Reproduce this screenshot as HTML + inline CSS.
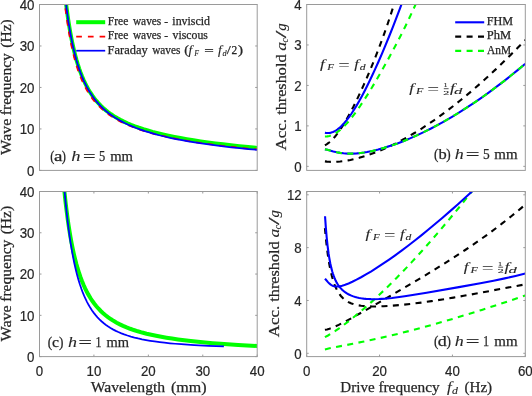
<!DOCTYPE html><html><head><meta charset="utf-8"><style>html,body{margin:0;padding:0;background:#fff;}svg{display:block;}.t{font-family:"Liberation Sans",sans-serif;font-size:14px;fill:#262626;stroke:#262626;stroke-width:0.2px;}.s{font-family:"Liberation Serif",serif;fill:#262626;stroke:#262626;stroke-width:0.25px;}.i{font-style:italic;stroke-width:0.1px;}</style></head><body>
<svg width="532" height="396" viewBox="0 0 532 396">
<rect width="532" height="396" fill="#fff"/>
<clipPath id="cpa"><rect x="39.50" y="4.50" width="217.70" height="165.90"/></clipPath>
<clipPath id="cpb"><rect x="306.70" y="4.50" width="218.60" height="165.90"/></clipPath>
<clipPath id="cpc"><rect x="39.50" y="191.50" width="217.70" height="165.10"/></clipPath>
<clipPath id="cpd"><rect x="306.70" y="191.50" width="218.60" height="165.10"/></clipPath>
<path clip-path="url(#cpa)" d="M58.55 -90.51L59.74 -69.49L60.94 -51.40L61.73 -40.69L62.53 -30.91L63.33 -21.96L64.12 -13.73L64.92 -6.15L65.71 0.84L66.51 7.32L67.71 16.16L68.50 21.55L69.70 28.96L70.49 33.50L71.69 39.78L72.88 45.49L74.07 50.70L75.27 55.47L76.46 59.85L77.66 63.89L79.25 68.80L80.44 72.16L82.04 76.28L83.63 80.02L85.22 83.44L86.81 86.57L88.41 89.45L90.40 92.73L92.39 95.71L94.38 98.42L96.37 100.90L98.36 103.18L100.75 105.68L103.14 107.95L105.92 110.36L108.31 112.25L111.10 114.26L113.88 116.11L117.07 118.03L120.25 119.79L123.84 121.60L127.42 123.25L131.00 124.77L134.98 126.32L138.96 127.74L143.34 129.19L147.72 130.52L152.50 131.87L157.68 133.21L162.85 134.45L168.42 135.69L174.40 136.92L180.37 138.06L186.74 139.19L193.50 140.30L200.67 141.39L207.84 142.41L215.40 143.41L222.96 144.34L230.93 145.25L239.29 146.15L248.04 147.02L257.20 147.87" fill="none" stroke="#00ff00" stroke-width="4"/>
<path clip-path="url(#cpa)" d="M58.55 -73.27L59.74 -53.88L60.94 -37.19L61.73 -27.31L62.53 -18.29L63.33 -10.03L64.12 -2.45L64.92 4.54L65.71 10.98L66.51 16.95L67.71 25.11L68.50 30.08L69.70 36.91L70.49 41.09L71.69 46.88L72.88 52.14L74.07 56.95L75.27 61.35L76.46 65.39L77.66 69.12L79.25 73.65L80.44 76.76L82.04 80.56L83.63 84.03L85.22 87.19L86.81 90.10L88.41 92.77L90.40 95.83L92.39 98.60L94.38 101.14L96.37 103.46L98.36 105.60L100.75 107.95L103.14 110.11L105.92 112.39L108.71 114.48L111.50 116.38L114.68 118.37L117.87 120.19L121.05 121.87L124.63 123.59L128.22 125.18L132.20 126.81L136.18 128.30L140.56 129.82L144.94 131.22L149.32 132.52L154.09 133.83L159.27 135.15L164.84 136.46L170.41 137.67L176.39 138.88L182.36 140.00L188.73 141.10L195.10 142.13L201.86 143.15L209.03 144.16L216.20 145.09L223.76 146.01L231.72 146.90L239.68 147.74L248.44 148.59L257.20 149.39" fill="none" stroke="#ff0000" stroke-width="1.75" stroke-dasharray="5.7 6"/>
<path clip-path="url(#cpa)" d="M58.55 -89.59L59.74 -68.66L60.94 -50.64L61.73 -39.98L62.53 -30.24L63.33 -21.32L64.12 -13.13L64.92 -5.58L65.71 1.39L66.51 7.83L67.71 16.65L68.50 22.01L69.70 29.40L70.49 33.92L71.69 40.17L72.88 45.86L74.07 51.05L75.27 55.81L76.46 60.18L77.66 64.21L79.25 69.11L80.44 72.47L82.04 76.58L83.63 80.33L85.22 83.75L86.81 86.89L88.41 89.78L90.40 93.08L92.39 96.08L94.38 98.81L96.37 101.32L98.36 103.63L100.75 106.17L103.14 108.49L105.92 110.96L108.71 113.20L111.50 115.25L114.68 117.39L117.87 119.34L121.05 121.14L124.63 122.99L128.22 124.68L132.20 126.41L136.18 128.00L140.56 129.61L144.94 131.09L149.32 132.46L154.09 133.84L159.27 135.23L164.44 136.50L170.02 137.78L175.99 139.03L181.96 140.20L188.33 141.35L194.70 142.41L201.47 143.46L208.63 144.49L215.80 145.44L223.36 146.38L231.32 147.29L239.68 148.18L248.44 149.04L257.20 149.84" fill="none" stroke="#0000ff" stroke-width="1.75"/>
<path clip-path="url(#cpc)" d="M58.55 110.95L59.74 132.03L60.94 150.28L61.73 161.11L62.53 171.04L63.33 180.15L64.12 188.54L64.92 196.28L65.71 203.45L66.51 210.09L67.71 219.18L68.50 224.73L69.70 232.37L70.49 237.05L71.69 243.53L72.88 249.43L74.07 254.81L75.27 259.74L76.46 264.26L77.66 268.43L79.25 273.49L80.44 276.95L82.04 281.18L83.63 285.02L85.22 288.52L86.81 291.72L88.41 294.65L90.40 297.98L92.39 300.99L94.38 303.72L96.37 306.20L98.36 308.48L100.75 310.95L103.14 313.19L105.52 315.23L107.91 317.09L110.70 319.05L113.49 320.84L116.67 322.68L119.86 324.34L123.04 325.84L126.62 327.38L130.21 328.76L133.79 330.02L137.77 331.29L142.15 332.55L146.53 333.69L151.31 334.81L156.08 335.82L161.26 336.82L166.43 337.72L172.01 338.60L177.98 339.46L184.35 340.29L190.72 341.03L197.88 341.80L205.05 342.48L212.61 343.14L220.57 343.77L238.09 344.97L257.20 346.04" fill="none" stroke="#00ff00" stroke-width="4"/>
<path clip-path="url(#cpc)" d="M60.18 128.29L61.35 148.15L62.71 168.23L64.01 184.98L65.54 201.82L67.01 215.79L67.77 222.32L68.72 229.77L69.53 235.68L70.36 241.31L71.22 246.70L72.28 252.83L73.19 257.68L74.32 263.20L75.29 267.56L76.48 272.52L77.51 276.43L78.78 280.88L80.10 285.08L81.45 289.03L82.62 292.14L84.06 295.67L85.55 299.00L87.09 302.12L88.69 305.07L90.33 307.83L92.03 310.43L93.79 312.87L95.60 315.16L97.48 317.32L99.42 319.34L101.42 321.24L103.49 323.03L105.63 324.71L107.85 326.28L110.52 327.99L112.90 329.36L115.77 330.86L118.32 332.05L121.40 333.35L124.14 334.39L127.45 335.52L130.90 336.57L134.47 337.55L138.19 338.45L142.05 339.29L146.06 340.06L150.23 340.78L154.57 341.44L159.73 342.14L164.43 342.70L170.03 343.28L175.14 343.75L181.22 344.24L187.58 344.69L194.22 345.09L208.40 345.76L223.89 346.29" fill="none" stroke="#0000ff" stroke-width="1.75"/>
<path clip-path="url(#cpb)" d="M324.92 145.20L326.09 144.58L327.27 143.85L328.51 142.97L329.76 141.96L331.03 140.83L332.31 139.56L333.60 138.19L334.89 136.71L336.18 135.14L337.68 133.18L340.47 129.24L343.47 124.58L346.48 119.54L349.69 113.77L353.13 107.22L356.56 100.32L360.21 92.64L363.86 84.62L367.50 76.28L371.15 67.62L374.80 58.63L378.02 50.41L381.24 41.88L384.24 33.63L387.25 25.05L390.04 16.76L392.83 8.12L395.40 -0.19L397.98 -8.87L400.55 -17.95L402.91 -26.66L405.27 -35.77L407.42 -44.44L409.56 -53.50L411.71 -62.98L413.85 -72.92L416.00 -83.35" fill="none" stroke="#000000" stroke-width="2.1" stroke-dasharray="6 5.4"/>
<path clip-path="url(#cpb)" d="M324.92 132.66L325.89 132.87L326.85 133.00L327.82 133.04L328.86 132.99L329.83 132.87L330.81 132.67L331.88 132.37L332.96 131.97L334.03 131.50L335.10 130.93L336.18 130.29L337.25 129.57L339.39 127.90L340.47 126.96L341.75 125.74L344.11 123.25L346.48 120.46L348.84 117.39L351.41 113.75L353.99 109.81L356.56 105.61L359.35 100.79L362.14 95.70L365.14 89.96L368.36 83.52L371.58 76.81L375.01 69.39L378.45 61.72L382.10 53.30L385.53 45.15L389.18 36.26L392.83 27.11L396.47 17.73L399.91 8.66L403.34 -0.65L406.56 -9.62L409.78 -18.83L413.00 -28.32L416.00 -37.44" fill="none" stroke="#0000ff" stroke-width="2.1"/>
<path clip-path="url(#cpb)" d="M324.92 136.48L326.02 136.48L327.20 136.40L328.31 136.23L329.48 135.96L330.64 135.61L331.94 135.12L332.98 134.66L334.29 133.99L335.59 133.23L336.89 132.38L338.19 131.45L339.49 130.44L342.09 128.18L344.95 125.37L347.82 122.25L350.68 118.86L353.80 114.88L356.93 110.63L360.31 105.78L363.95 100.30L367.60 94.59L371.50 88.26L376.18 80.41L381.13 71.86L386.33 62.60L391.28 53.57L395.96 44.77L400.65 35.72L404.81 27.41L408.97 18.81L412.62 11.01L416.00 3.48L419.38 -4.35L422.51 -11.89L425.63 -19.78L428.49 -27.34L431.35 -35.26L434.22 -43.57" fill="none" stroke="#00ff00" stroke-width="2.1" stroke-dasharray="6 5.4"/>
<path clip-path="url(#cpb)" d="M324.92 161.35L326.92 161.62L328.93 161.79L330.87 161.89L333.31 161.92L335.27 161.87L337.71 161.73L340.15 161.52L342.59 161.24L345.04 160.89L347.97 160.40L350.41 159.93L353.34 159.29L356.27 158.59L359.20 157.82L365.07 156.08L370.93 154.10L377.28 151.71L383.14 149.28L389.49 146.41L395.84 143.32L402.19 140.01L408.54 136.48L414.90 132.74L421.25 128.80L427.60 124.67L433.95 120.34L440.79 115.48L447.14 110.77L453.98 105.51L460.82 100.05L467.65 94.41L474.49 88.57L481.82 82.13L488.66 75.93L495.99 69.11L503.32 62.10L510.64 54.91L517.97 47.55L525.30 40.03" fill="none" stroke="#000000" stroke-width="2.1" stroke-dasharray="6 5.4"/>
<path clip-path="url(#cpb)" d="M324.92 149.37L326.02 149.53L327.41 149.82L333.31 151.45L336.73 152.27L340.15 152.90L343.57 153.33L345.53 153.48L347.97 153.60L349.92 153.63L352.36 153.60L356.76 153.35L359.20 153.12L361.65 152.83L364.09 152.48L367.02 151.99L372.39 150.92L378.26 149.51L384.12 147.87L390.47 145.86L396.82 143.64L403.17 141.22L410.01 138.40L416.85 135.37L423.69 132.14L430.53 128.73L437.86 124.86L444.69 121.07L452.02 116.81L459.35 112.35L466.68 107.70L474.01 102.85L481.33 97.82L488.66 92.59L495.99 87.18L503.32 81.58L510.64 75.80L517.97 69.83L525.30 63.68" fill="none" stroke="#0000ff" stroke-width="2.1"/>
<path clip-path="url(#cpb)" d="M324.92 149.37L326.02 149.53L327.41 149.82L333.31 151.45L336.73 152.27L340.15 152.90L343.57 153.33L345.53 153.48L347.97 153.60L349.92 153.63L352.36 153.60L356.76 153.35L359.20 153.12L361.65 152.83L364.09 152.48L367.02 151.99L372.39 150.92L378.26 149.51L384.12 147.87L390.47 145.86L396.82 143.64L403.17 141.22L410.01 138.40L416.85 135.37L423.69 132.14L430.53 128.73L437.86 124.86L444.69 121.07L452.02 116.81L459.35 112.35L466.68 107.70L474.01 102.85L481.33 97.82L488.66 92.59L495.99 87.18L503.32 81.58L510.64 75.80L517.97 69.83L525.30 63.68" fill="none" stroke="#00ff00" stroke-width="2.1" stroke-dasharray="6 5.4"/>
<path clip-path="url(#cpd)" d="M324.92 228.05L325.82 237.85L326.85 247.34L327.89 255.29L329.07 262.79L329.69 266.23L330.38 269.68L330.87 271.91L331.85 275.92L332.34 277.72L333.31 280.97L333.80 282.44L334.78 285.10L336.24 288.50L337.22 290.44L338.20 292.15L339.17 293.68L340.15 295.03L341.13 296.24L342.59 297.81L343.57 298.73L345.04 299.93L346.50 300.95L347.97 301.82L349.43 302.57L350.90 303.21L352.36 303.76L354.32 304.38L356.27 304.87L358.72 305.37L361.16 305.74L363.60 306.01L366.53 306.24L369.46 306.38L372.39 306.44L375.81 306.44L379.72 306.36L383.63 306.21L391.93 305.70L401.22 304.91L411.48 303.81L421.25 302.59L431.50 301.15L442.25 299.50L453.49 297.64L463.75 295.84L474.98 293.79L511.62 286.87L525.30 284.33" fill="none" stroke="#000000" stroke-width="2.1" stroke-dasharray="6 5.4"/>
<path clip-path="url(#cpd)" d="M324.92 329.84L327.06 329.43L329.48 328.73L332.34 327.70L335.27 326.46L338.69 324.87L342.59 322.92L346.99 320.61L352.36 317.68L361.16 312.75L372.88 306.04L389.00 296.72L403.66 288.17L414.41 281.82L424.18 275.97L432.97 270.62L441.28 265.47L453.49 257.71L465.21 250.00L475.96 242.66L481.33 238.89L486.71 235.03L492.08 231.09L496.97 227.43L501.85 223.70L506.74 219.88L511.62 215.98L516.02 212.40L520.90 208.33L525.30 204.59" fill="none" stroke="#000000" stroke-width="2.1" stroke-dasharray="6 5.4"/>
<path clip-path="url(#cpd)" d="M324.92 349.41L328.58 348.55L333.31 347.56L352.85 343.76L362.62 341.80L370.93 340.05L379.23 338.23L389.49 335.87L399.75 333.40L410.01 330.80L420.76 327.97L432.48 324.74L444.21 321.39L456.42 317.77L468.63 314.03L481.82 309.88L495.50 305.45L509.67 300.77L525.30 295.49" fill="none" stroke="#00ff00" stroke-width="2.1" stroke-dasharray="6 5.4"/>
<path clip-path="url(#cpd)" d="M324.92 337.15L328.03 335.47L331.52 333.38L335.31 330.91L339.10 328.30L343.27 325.28L347.81 321.83L352.36 318.25L356.91 314.55L361.46 310.74L366.38 306.48L371.31 302.10L376.23 297.61L381.16 293.00L386.09 288.29L391.01 283.47L396.32 278.16L401.24 273.14L406.55 267.61L411.48 262.38L416.78 256.65L421.71 251.23L427.01 245.30L432.32 239.26L437.62 233.13L448.23 220.59L459.22 207.21L470.21 193.47L481.58 178.89" fill="none" stroke="#00ff00" stroke-width="2.1" stroke-dasharray="6 5.4"/>
<path clip-path="url(#cpd)" d="M325.04 216.30L325.82 227.31L326.65 236.97L327.55 245.53L328.58 253.49L329.14 257.08L329.69 260.29L330.24 263.17L330.87 266.08L331.36 268.14L332.34 271.75L332.82 273.35L333.80 276.19L334.29 277.46L335.27 279.73L336.24 281.72L337.22 283.46L338.20 285.00L339.66 287.00L340.64 288.16L342.11 289.68L343.57 291.00L345.04 292.14L346.50 293.13L347.97 294.00L349.43 294.77L351.39 295.64L353.34 296.38L355.30 297.01L357.25 297.53L359.20 297.96L361.16 298.31L363.60 298.65L366.04 298.90L368.49 299.07L370.93 299.16L373.37 299.19L378.74 299.06L381.68 298.90L385.10 298.65L391.93 297.96L399.26 297.03L404.64 296.26L410.99 295.28L426.62 292.70L458.86 287.11L480.36 283.24L493.55 280.71L504.78 278.39L515.53 275.99L525.30 273.60" fill="none" stroke="#0000ff" stroke-width="2.1"/>
<path clip-path="url(#cpd)" d="M324.92 278.67L325.75 279.53L327.96 282.12L329.07 283.26L330.38 284.38L331.14 284.90L331.90 285.34L332.66 285.70L333.41 285.98L334.17 286.20L335.31 286.41L336.07 286.49L337.20 286.52L338.34 286.45L339.48 286.31L340.61 286.10L342.13 285.74L343.64 285.29L345.16 284.78L348.57 283.45L352.36 281.75L356.53 279.68L361.08 277.25L366.00 274.45L371.31 271.28L376.99 267.71L383.05 263.73L389.12 259.59L395.18 255.30L401.62 250.59L408.07 245.74L414.51 240.75L421.33 235.33L428.15 229.78L435.35 223.79L442.55 217.68L450.13 211.12L457.71 204.43L465.66 197.28L473.62 190.02L481.58 182.64" fill="none" stroke="#0000ff" stroke-width="2.1"/>
<rect x="39.50" y="4.50" width="217.70" height="165.90" fill="none" stroke="#9a9a9a" stroke-width="1"/>
<path d="M39.50 170.40h2.00M257.20 170.40h-2.00M39.50 128.93h2.00M257.20 128.93h-2.00M39.50 87.45h2.00M257.20 87.45h-2.00M39.50 45.97h2.00M257.20 45.97h-2.00M39.50 4.50h2.00M257.20 4.50h-2.00" stroke="#9a9a9a" stroke-width="1" fill="none"/>
<text class="t" x="34.50" y="175.70" text-anchor="end" textLength="7.39" lengthAdjust="spacingAndGlyphs">0</text>
<text class="t" x="34.50" y="134.23" text-anchor="end" textLength="14.79" lengthAdjust="spacingAndGlyphs">10</text>
<text class="t" x="34.50" y="92.75" text-anchor="end" textLength="14.79" lengthAdjust="spacingAndGlyphs">20</text>
<text class="t" x="34.50" y="51.27" text-anchor="end" textLength="14.79" lengthAdjust="spacingAndGlyphs">30</text>
<text class="t" x="34.50" y="9.80" text-anchor="end" textLength="14.79" lengthAdjust="spacingAndGlyphs">40</text>
<rect x="39.50" y="191.50" width="217.70" height="165.10" fill="none" stroke="#9a9a9a" stroke-width="1"/>
<path d="M39.50 356.60v-2.00M39.50 191.50v2.00M93.92 356.60v-2.00M93.92 191.50v2.00M148.35 356.60v-2.00M148.35 191.50v2.00M202.77 356.60v-2.00M202.77 191.50v2.00M257.20 356.60v-2.00M257.20 191.50v2.00M39.50 356.60h2.00M257.20 356.60h-2.00M39.50 315.33h2.00M257.20 315.33h-2.00M39.50 274.05h2.00M257.20 274.05h-2.00M39.50 232.78h2.00M257.20 232.78h-2.00M39.50 191.50h2.00M257.20 191.50h-2.00" stroke="#9a9a9a" stroke-width="1" fill="none"/>
<text class="t" x="39.50" y="375.50" text-anchor="middle" textLength="7.39" lengthAdjust="spacingAndGlyphs">0</text>
<text class="t" x="93.92" y="375.50" text-anchor="middle" textLength="14.79" lengthAdjust="spacingAndGlyphs">10</text>
<text class="t" x="148.35" y="375.50" text-anchor="middle" textLength="14.79" lengthAdjust="spacingAndGlyphs">20</text>
<text class="t" x="202.77" y="375.50" text-anchor="middle" textLength="14.79" lengthAdjust="spacingAndGlyphs">30</text>
<text class="t" x="257.20" y="375.50" text-anchor="middle" textLength="14.79" lengthAdjust="spacingAndGlyphs">40</text>
<text class="t" x="34.50" y="361.90" text-anchor="end" textLength="7.39" lengthAdjust="spacingAndGlyphs">0</text>
<text class="t" x="34.50" y="320.63" text-anchor="end" textLength="14.79" lengthAdjust="spacingAndGlyphs">10</text>
<text class="t" x="34.50" y="279.35" text-anchor="end" textLength="14.79" lengthAdjust="spacingAndGlyphs">20</text>
<text class="t" x="34.50" y="238.08" text-anchor="end" textLength="14.79" lengthAdjust="spacingAndGlyphs">30</text>
<text class="t" x="34.50" y="196.80" text-anchor="end" textLength="14.79" lengthAdjust="spacingAndGlyphs">40</text>
<rect x="306.70" y="4.50" width="218.60" height="165.90" fill="none" stroke="#9a9a9a" stroke-width="1"/>
<path d="M306.70 166.35h2.00M525.30 166.35h-2.00M306.70 125.89h2.00M525.30 125.89h-2.00M306.70 85.43h2.00M525.30 85.43h-2.00M306.70 44.96h2.00M525.30 44.96h-2.00M306.70 4.50h2.00M525.30 4.50h-2.00" stroke="#9a9a9a" stroke-width="1" fill="none"/>
<text class="t" x="301.70" y="171.65" text-anchor="end" textLength="7.39" lengthAdjust="spacingAndGlyphs">0</text>
<text class="t" x="301.70" y="131.19" text-anchor="end" textLength="7.39" lengthAdjust="spacingAndGlyphs">1</text>
<text class="t" x="301.70" y="90.73" text-anchor="end" textLength="7.39" lengthAdjust="spacingAndGlyphs">2</text>
<text class="t" x="301.70" y="50.26" text-anchor="end" textLength="7.39" lengthAdjust="spacingAndGlyphs">3</text>
<text class="t" x="301.70" y="9.80" text-anchor="end" textLength="7.39" lengthAdjust="spacingAndGlyphs">4</text>
<rect x="306.70" y="191.50" width="218.60" height="165.10" fill="none" stroke="#9a9a9a" stroke-width="1"/>
<path d="M306.70 356.60v-2.00M306.70 191.50v2.00M379.57 356.60v-2.00M379.57 191.50v2.00M452.43 356.60v-2.00M452.43 191.50v2.00M525.30 356.60v-2.00M525.30 191.50v2.00M306.70 353.30h2.00M525.30 353.30h-2.00M306.70 300.47h2.00M525.30 300.47h-2.00M306.70 247.63h2.00M525.30 247.63h-2.00M306.70 194.80h2.00M525.30 194.80h-2.00" stroke="#9a9a9a" stroke-width="1" fill="none"/>
<text class="t" x="306.70" y="375.50" text-anchor="middle" textLength="7.39" lengthAdjust="spacingAndGlyphs">0</text>
<text class="t" x="379.57" y="375.50" text-anchor="middle" textLength="14.79" lengthAdjust="spacingAndGlyphs">20</text>
<text class="t" x="452.43" y="375.50" text-anchor="middle" textLength="14.79" lengthAdjust="spacingAndGlyphs">40</text>
<text class="t" x="525.30" y="375.50" text-anchor="middle" textLength="14.79" lengthAdjust="spacingAndGlyphs">60</text>
<text class="t" x="301.70" y="358.60" text-anchor="end" textLength="7.39" lengthAdjust="spacingAndGlyphs">0</text>
<text class="t" x="301.70" y="305.77" text-anchor="end" textLength="7.39" lengthAdjust="spacingAndGlyphs">4</text>
<text class="t" x="301.70" y="252.93" text-anchor="end" textLength="7.39" lengthAdjust="spacingAndGlyphs">8</text>
<text class="t" x="301.70" y="200.10" text-anchor="end" textLength="14.79" lengthAdjust="spacingAndGlyphs">12</text>
<text class="s i" x="319.91" y="68.25" font-size="13.00" textLength="4.80" lengthAdjust="spacingAndGlyphs">f</text>
<text class="s i" x="327.26" y="70.45" font-size="9.20" textLength="6.75" lengthAdjust="spacingAndGlyphs">F</text>
<text class="s" x="338.28" y="70.13" font-size="15.00" textLength="11.51" lengthAdjust="spacingAndGlyphs" style="stroke-width:0">=</text>
<text class="s i" x="354.21" y="68.25" font-size="13.00" textLength="4.58" lengthAdjust="spacingAndGlyphs">f</text>
<text class="s i" x="359.85" y="70.45" font-size="9.20" textLength="5.82" lengthAdjust="spacingAndGlyphs">d</text>
<text class="s i" x="409.31" y="92.25" font-size="13.00" textLength="4.80" lengthAdjust="spacingAndGlyphs">f</text>
<text class="s i" x="416.06" y="94.45" font-size="9.20" textLength="7.34" lengthAdjust="spacingAndGlyphs">F</text>
<text class="s" x="427.35" y="94.13" font-size="15.00" textLength="11.88" lengthAdjust="spacingAndGlyphs" style="stroke-width:0">=</text>
<text class="s" x="443.85" y="87.05" font-size="6.80" textLength="3.69" lengthAdjust="spacingAndGlyphs" style="stroke-width:0.15px">1</text>
<path d="M443.80 88.70H448.60" stroke="#262626" stroke-width="0.8"/>
<text class="s" x="443.27" y="94.90" font-size="6.80" textLength="5.99" lengthAdjust="spacingAndGlyphs" style="stroke-width:0.15px">2</text>
<text class="s i" x="449.90" y="92.25" font-size="13.00" textLength="4.95" lengthAdjust="spacingAndGlyphs">f</text>
<text class="s i" x="454.09" y="94.45" font-size="9.20" textLength="8.37" lengthAdjust="spacingAndGlyphs">d</text>
<text class="s i" x="365.61" y="237.75" font-size="13.00" textLength="4.80" lengthAdjust="spacingAndGlyphs">f</text>
<text class="s i" x="372.96" y="239.95" font-size="9.20" textLength="6.75" lengthAdjust="spacingAndGlyphs">F</text>
<text class="s" x="383.98" y="239.63" font-size="15.00" textLength="11.51" lengthAdjust="spacingAndGlyphs" style="stroke-width:0">=</text>
<text class="s i" x="399.91" y="237.75" font-size="13.00" textLength="4.58" lengthAdjust="spacingAndGlyphs">f</text>
<text class="s i" x="405.55" y="239.95" font-size="9.20" textLength="5.82" lengthAdjust="spacingAndGlyphs">d</text>
<text class="s i" x="463.81" y="270.75" font-size="13.00" textLength="4.80" lengthAdjust="spacingAndGlyphs">f</text>
<text class="s i" x="470.56" y="272.95" font-size="9.20" textLength="7.34" lengthAdjust="spacingAndGlyphs">F</text>
<text class="s" x="481.85" y="272.63" font-size="15.00" textLength="11.88" lengthAdjust="spacingAndGlyphs" style="stroke-width:0">=</text>
<text class="s" x="498.35" y="265.55" font-size="6.80" textLength="3.69" lengthAdjust="spacingAndGlyphs" style="stroke-width:0.15px">1</text>
<path d="M498.30 267.20H503.10" stroke="#262626" stroke-width="0.8"/>
<text class="s" x="497.77" y="273.40" font-size="6.80" textLength="5.99" lengthAdjust="spacingAndGlyphs" style="stroke-width:0.15px">2</text>
<text class="s i" x="504.40" y="270.75" font-size="13.00" textLength="4.95" lengthAdjust="spacingAndGlyphs">f</text>
<text class="s i" x="508.59" y="272.95" font-size="9.20" textLength="8.37" lengthAdjust="spacingAndGlyphs">d</text>
<text class="s" x="90.68" y="392.10" font-size="15.50" textLength="74.52" lengthAdjust="spacingAndGlyphs">Wavelength</text>
<text class="s" x="171.00" y="392.10" font-size="15.50" textLength="35.61" lengthAdjust="spacingAndGlyphs">(mm)</text>
<text class="s" x="340.27" y="392.10" font-size="15.50" textLength="34.36" lengthAdjust="spacingAndGlyphs">Drive</text>
<text class="s" x="378.43" y="392.10" font-size="15.50" textLength="61.23" lengthAdjust="spacingAndGlyphs">frequency</text>
<text class="s i" x="446.91" y="392.10" font-size="14.50" textLength="4.66" lengthAdjust="spacingAndGlyphs">f</text>
<text class="s i" x="451.94" y="394.40" font-size="10.50" textLength="5.93" lengthAdjust="spacingAndGlyphs">d</text>
<text class="s" x="464.43" y="392.10" font-size="15.50" textLength="27.73" lengthAdjust="spacingAndGlyphs">(Hz)</text>
<g transform="translate(0,0.00) rotate(-90)">
<text class="s" x="-155.02" y="11.40" font-size="15.20" textLength="36.36" lengthAdjust="spacingAndGlyphs">Wave</text>
<text class="s" x="-115.18" y="11.40" font-size="15.20" textLength="62.04" lengthAdjust="spacingAndGlyphs">frequency</text>
<text class="s" x="-47.78" y="11.40" font-size="15.20" textLength="28.47" lengthAdjust="spacingAndGlyphs">(Hz)</text>
</g>
<g transform="translate(0,186.55) rotate(-90)">
<text class="s" x="-155.02" y="11.40" font-size="15.20" textLength="36.36" lengthAdjust="spacingAndGlyphs">Wave</text>
<text class="s" x="-115.18" y="11.40" font-size="15.20" textLength="62.04" lengthAdjust="spacingAndGlyphs">frequency</text>
<text class="s" x="-47.78" y="11.40" font-size="15.20" textLength="28.47" lengthAdjust="spacingAndGlyphs">(Hz)</text>
</g>
<g transform="translate(0,0.00) rotate(-90)">
<text class="s" x="-150.47" y="286.20" font-size="15.20" textLength="31.59" lengthAdjust="spacingAndGlyphs">Acc.</text>
<text class="s" x="-114.86" y="286.20" font-size="15.20" textLength="60.36" lengthAdjust="spacingAndGlyphs">threshold</text>
<text class="s i" x="-50.82" y="286.20" font-size="14.50" textLength="8.78" lengthAdjust="spacingAndGlyphs">a</text>
<text class="s i" x="-42.39" y="288.30" font-size="10.50" textLength="4.19" lengthAdjust="spacingAndGlyphs">c</text>
<text class="s" x="-38.30" y="286.20" font-size="15.00" textLength="7.60" lengthAdjust="spacingAndGlyphs">/</text>
<text class="s i" x="-30.71" y="286.20" font-size="14.50" textLength="7.34" lengthAdjust="spacingAndGlyphs">g</text>
</g>
<g transform="translate(0,186.80) rotate(-90)">
<text class="s" x="-150.47" y="279.00" font-size="15.20" textLength="31.59" lengthAdjust="spacingAndGlyphs">Acc.</text>
<text class="s" x="-114.86" y="279.00" font-size="15.20" textLength="60.36" lengthAdjust="spacingAndGlyphs">threshold</text>
<text class="s i" x="-50.82" y="279.00" font-size="14.50" textLength="8.78" lengthAdjust="spacingAndGlyphs">a</text>
<text class="s i" x="-42.39" y="281.10" font-size="10.50" textLength="4.19" lengthAdjust="spacingAndGlyphs">c</text>
<text class="s" x="-38.30" y="279.00" font-size="15.00" textLength="7.60" lengthAdjust="spacingAndGlyphs">/</text>
<text class="s i" x="-30.71" y="279.00" font-size="14.50" textLength="7.34" lengthAdjust="spacingAndGlyphs">g</text>
</g>
<path d="M76.2 22.2H105.2" stroke="#00ff00" stroke-width="4"/>
<path d="M76.2 36.6H105.2" stroke="#ff0000" stroke-width="1.7" stroke-dasharray="5.7 6"/>
<path d="M76.2 50.7H105.2" stroke="#0000ff" stroke-width="1.7"/>
<text class="s" x="107.77" y="25.10" font-size="11.80" textLength="20.53" lengthAdjust="spacingAndGlyphs">Free</text>
<text class="s" x="132.89" y="25.10" font-size="11.80" textLength="28.42" lengthAdjust="spacingAndGlyphs">waves</text>
<text class="s" x="164.17" y="25.10" font-size="11.80" textLength="3.85" lengthAdjust="spacingAndGlyphs">-</text>
<text class="s" x="172.35" y="25.10" font-size="11.80" textLength="37.70" lengthAdjust="spacingAndGlyphs">inviscid</text>
<text class="s" x="107.77" y="39.30" font-size="11.80" textLength="20.53" lengthAdjust="spacingAndGlyphs">Free</text>
<text class="s" x="132.89" y="39.30" font-size="11.80" textLength="28.42" lengthAdjust="spacingAndGlyphs">waves</text>
<text class="s" x="164.17" y="39.30" font-size="11.80" textLength="3.85" lengthAdjust="spacingAndGlyphs">-</text>
<text class="s" x="172.60" y="39.30" font-size="11.80" textLength="35.33" lengthAdjust="spacingAndGlyphs">viscous</text>
<text class="s" x="107.64" y="53.80" font-size="11.80" textLength="40.01" lengthAdjust="spacingAndGlyphs">Faraday</text>
<text class="s" x="152.19" y="53.80" font-size="11.80" textLength="28.22" lengthAdjust="spacingAndGlyphs">waves</text>
<text class="s" x="184.38" y="53.80" font-size="11.80" textLength="4.67" lengthAdjust="spacingAndGlyphs">(</text>
<text class="s i" x="188.45" y="53.80" font-size="11.50" textLength="3.78" lengthAdjust="spacingAndGlyphs">f</text>
<text class="s i" x="194.24" y="55.60" font-size="8.30" textLength="4.79" lengthAdjust="spacingAndGlyphs">F</text>
<text class="s" x="204.15" y="55.30" font-size="12.50" textLength="9.57" lengthAdjust="spacingAndGlyphs">=</text>
<text class="s i" x="218.05" y="53.80" font-size="11.50" textLength="3.78" lengthAdjust="spacingAndGlyphs">f</text>
<text class="s i" x="222.55" y="55.60" font-size="8.30" textLength="4.13" lengthAdjust="spacingAndGlyphs">d</text>
<text class="s" x="226.70" y="53.80" font-size="11.80" textLength="4.00" lengthAdjust="spacingAndGlyphs">/</text>
<text class="s" x="231.50" y="53.80" font-size="11.80" textLength="5.74" lengthAdjust="spacingAndGlyphs">2</text>
<text class="s" x="238.11" y="53.80" font-size="11.80" textLength="5.06" lengthAdjust="spacingAndGlyphs">)</text>
<path d="M455.2 22.3H484.2" stroke="#0000ff" stroke-width="2.1"/>
<path d="M455.2 36.6H484.2" stroke="#000" stroke-width="2.1" stroke-dasharray="6 5.4"/>
<path d="M455.2 50.9H484.2" stroke="#00ff00" stroke-width="2.1" stroke-dasharray="6 5.4"/>
<text class="s" x="486.75" y="25.10" font-size="11.80" textLength="26.31" lengthAdjust="spacingAndGlyphs">FHM</text>
<text class="s" x="486.74" y="39.30" font-size="11.80" textLength="24.33" lengthAdjust="spacingAndGlyphs">PhM</text>
<text class="s" x="486.99" y="53.80" font-size="11.80" textLength="24.04" lengthAdjust="spacingAndGlyphs">AnM</text>
<text class="s" x="50.35" y="160.70" font-size="15.00" textLength="4.15" lengthAdjust="spacingAndGlyphs">(</text>
<text class="s" x="54.03" y="160.70" font-size="15.00" textLength="8.43" lengthAdjust="spacingAndGlyphs">a</text>
<text class="s" x="61.80" y="160.70" font-size="15.00" textLength="4.15" lengthAdjust="spacingAndGlyphs">)</text>
<text class="s i" x="71.33" y="160.70" font-size="15.00" textLength="9.23" lengthAdjust="spacingAndGlyphs">h</text>
<text class="s" x="83.10" y="161.70" font-size="16.00" textLength="12.48" lengthAdjust="spacingAndGlyphs">=</text>
<text class="s" x="99.08" y="160.70" font-size="15.00" textLength="6.21" lengthAdjust="spacingAndGlyphs">5</text>
<text class="s" x="110.19" y="160.70" font-size="15.00" textLength="22.74" lengthAdjust="spacingAndGlyphs">mm</text>
<text class="s" x="434.12" y="159.40" font-size="15.00" textLength="4.41" lengthAdjust="spacingAndGlyphs">(</text>
<text class="s" x="438.50" y="159.40" font-size="15.00" textLength="8.23" lengthAdjust="spacingAndGlyphs">b</text>
<text class="s" x="446.17" y="159.40" font-size="15.00" textLength="4.41" lengthAdjust="spacingAndGlyphs">)</text>
<text class="s i" x="454.75" y="159.40" font-size="15.00" textLength="9.00" lengthAdjust="spacingAndGlyphs">h</text>
<text class="s" x="465.69" y="160.40" font-size="16.00" textLength="13.70" lengthAdjust="spacingAndGlyphs">=</text>
<text class="s" x="483.02" y="159.40" font-size="15.00" textLength="6.70" lengthAdjust="spacingAndGlyphs">5</text>
<text class="s" x="494.29" y="159.40" font-size="15.00" textLength="23.25" lengthAdjust="spacingAndGlyphs">mm</text>
<text class="s" x="47.82" y="346.70" font-size="15.00" textLength="4.41" lengthAdjust="spacingAndGlyphs">(</text>
<text class="s" x="52.00" y="346.70" font-size="15.00" textLength="6.98" lengthAdjust="spacingAndGlyphs">c</text>
<text class="s" x="58.97" y="346.70" font-size="15.00" textLength="4.41" lengthAdjust="spacingAndGlyphs">)</text>
<text class="s i" x="68.05" y="346.70" font-size="15.00" textLength="9.00" lengthAdjust="spacingAndGlyphs">h</text>
<text class="s" x="78.52" y="347.70" font-size="16.00" textLength="13.33" lengthAdjust="spacingAndGlyphs">=</text>
<text class="s" x="95.55" y="346.70" font-size="15.00" textLength="5.97" lengthAdjust="spacingAndGlyphs">1</text>
<text class="s" x="106.50" y="346.70" font-size="15.00" textLength="22.53" lengthAdjust="spacingAndGlyphs">mm</text>
<text class="s" x="434.12" y="345.50" font-size="15.00" textLength="4.41" lengthAdjust="spacingAndGlyphs">(</text>
<text class="s" x="437.85" y="345.50" font-size="15.00" textLength="8.97" lengthAdjust="spacingAndGlyphs">d</text>
<text class="s" x="446.47" y="345.50" font-size="15.00" textLength="4.41" lengthAdjust="spacingAndGlyphs">)</text>
<text class="s i" x="454.75" y="345.50" font-size="15.00" textLength="9.00" lengthAdjust="spacingAndGlyphs">h</text>
<text class="s" x="465.69" y="346.50" font-size="16.00" textLength="13.70" lengthAdjust="spacingAndGlyphs">=</text>
<text class="s" x="483.03" y="345.50" font-size="15.00" textLength="6.11" lengthAdjust="spacingAndGlyphs">1</text>
<text class="s" x="494.29" y="345.50" font-size="15.00" textLength="23.25" lengthAdjust="spacingAndGlyphs">mm</text>
</svg></body></html>
